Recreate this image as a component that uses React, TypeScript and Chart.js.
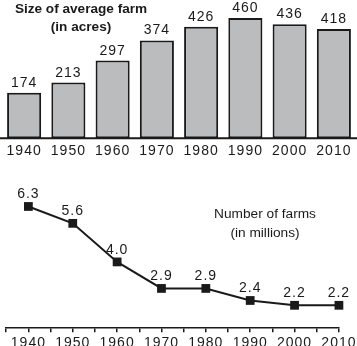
import React, { useEffect, useRef } from 'react';
import { Chart, registerables } from 'chart.js';

Chart.register(...registerables);

const years = ['1940', '1950', '1960', '1970', '1980', '1990', '2000', '2010'];
const yearNumbers = [1940, 1950, 1960, 1970, 1980, 1990, 2000, 2010];
const farmSize = [174, 213, 297, 374, 426, 460, 436, 418];
const farmCount = [6.3, 5.6, 4.0, 2.9, 2.9, 2.4, 2.2, 2.2];
const farmCountLabels = ['6.3', '5.6', '4.0', '2.9', '2.9', '2.4', '2.2', '2.2'];
const sizeTitle = ['Size of average farm', '(in acres)'];
const countTitle = ['Number of farms', '(in millions)'];

const FONT = '"Liberation Sans", Arial, Helvetica, sans-serif';
const INK = '#1a1a1a';

const spacing = {
  id: 'spacing',
  beforeDraw(chart: any) {
    chart.ctx.letterSpacing = '1px';
  },
};

const barDecor = {
  id: 'barDecor',
  afterDatasetsDraw(chart: any) {
    const ctx = chart.ctx;
    const y0 = chart.scales.y.getPixelForValue(0);
    ctx.save();
    ctx.strokeStyle = INK;
    ctx.lineWidth = 2;
    ctx.beginPath();
    ctx.moveTo(0, y0);
    ctx.lineTo(chart.width, y0);
    ctx.stroke();
    const meta = chart.getDatasetMeta(0);
    ctx.fillStyle = INK;
    ctx.font = `14px ${FONT}`;
    ctx.textAlign = 'center';
    ctx.textBaseline = 'alphabetic';
    ctx.letterSpacing = '1px';
    meta.data.forEach((el: any, i: number) => {
      ctx.fillText(String(farmSize[i]), el.x, el.y - 6);
    });
    ctx.letterSpacing = '0px';
    ctx.font = `bold 13.6px ${FONT}`;
    ctx.fillText(sizeTitle[0], 81, 12.6);
    ctx.fillText(sizeTitle[1], 81, 30.6);
    ctx.restore();
  },
};

const lineDecor = {
  id: 'lineDecor',
  afterDatasetsDraw(chart: any) {
    const ctx = chart.ctx;
    const meta = chart.getDatasetMeta(0);
    ctx.save();
    ctx.fillStyle = INK;
    ctx.font = `14px ${FONT}`;
    ctx.textAlign = 'center';
    ctx.textBaseline = 'alphabetic';
    ctx.letterSpacing = '1px';
    meta.data.forEach((el: any, i: number) => {
      ctx.fillText(farmCountLabels[i], el.x, el.y - 8);
    });
    ctx.letterSpacing = '0px';
    ctx.font = `13.7px ${FONT}`;
    ctx.fillText(countTitle[0], 265, 42.7);
    ctx.fillText(countTitle[1], 265, 62);
    ctx.restore();
  },
};

export default function App() {
  const topRef = useRef<HTMLCanvasElement>(null);
  const bottomRef = useRef<HTMLCanvasElement>(null);

  useEffect(() => {
    const top = new Chart(topRef.current as HTMLCanvasElement, {
      type: 'bar',
      data: {
        labels: years,
        datasets: [
          {
            data: farmSize,
            backgroundColor: '#bbbcbe',
            borderColor: INK,
            borderWidth: 2,
            borderSkipped: false,
            categoryPercentage: 1,
            barPercentage: 0.77,
          } as any,
        ],
      },
      options: {
        responsive: false,
        animation: false,
        devicePixelRatio: 1,
        layout: { padding: { top: 7.5, left: 2, right: 1, bottom: 0 } },
        plugins: { legend: { display: false }, tooltip: { enabled: false } },
        scales: {
          x: {
            grid: { display: false, drawTicks: false },
            border: { display: false },
            ticks: {
              color: INK,
              font: { family: FONT, size: 14 },
              padding: 5,
              maxRotation: 0,
              autoSkip: false,
            },
          },
          y: { display: false, min: 0, max: 500 },
        },
      },
      plugins: [spacing, barDecor],
    });

    const bottom = new Chart(bottomRef.current as HTMLCanvasElement, {
      type: 'line',
      data: {
        datasets: [
          {
            data: yearNumbers.map((x, i) => ({ x, y: farmCount[i] })),
            borderColor: INK,
            borderWidth: 2,
            pointStyle: 'rect',
            pointRadius: 6.2,
            pointBackgroundColor: INK,
            pointBorderWidth: 0,
            tension: 0,
            clip: false,
          } as any,
        ],
      },
      options: {
        responsive: false,
        animation: false,
        devicePixelRatio: 1,
        layout: { padding: { top: 14.6, left: 1, right: 16.3, bottom: 0 } },
        plugins: { legend: { display: false }, tooltip: { enabled: false } },
        scales: {
          x: {
            type: 'linear',
            min: 1935,
            max: 2010,
            grid: {
              display: true,
              drawOnChartArea: false,
              drawTicks: true,
              tickLength: 4,
              color: INK,
              lineWidth: 1.5,
            },
            border: { display: true, color: INK, width: 1.5 },
            ticks: {
              stepSize: 5,
              autoSkip: false,
              maxRotation: 0,
              padding: 2.5,
              color: INK,
              font: { family: FONT, size: 14 },
              callback: (v: any) => (Number(v) % 10 === 0 ? String(v) : ''),
            },
          },
          y: { display: false, min: 1.25, max: 7 },
        },
      },
      plugins: [spacing, lineDecor],
    });

    return () => {
      top.destroy();
      bottom.destroy();
    };
  }, []);

  return (
    <div
      style={{
        position: 'fixed',
        left: 0,
        top: 0,
        width: 357,
        height: 346,
        overflow: 'hidden',
        background: '#fff',
      }}
    >
      <canvas
        ref={topRef}
        width={357}
        height={165}
        style={{ position: 'absolute', left: 0, top: 0, width: 357, height: 165 }}
      />
      <canvas
        ref={bottomRef}
        width={357}
        height={179}
        style={{ position: 'absolute', left: 0, top: 175, width: 357, height: 179 }}
      />
    </div>
  );
}
